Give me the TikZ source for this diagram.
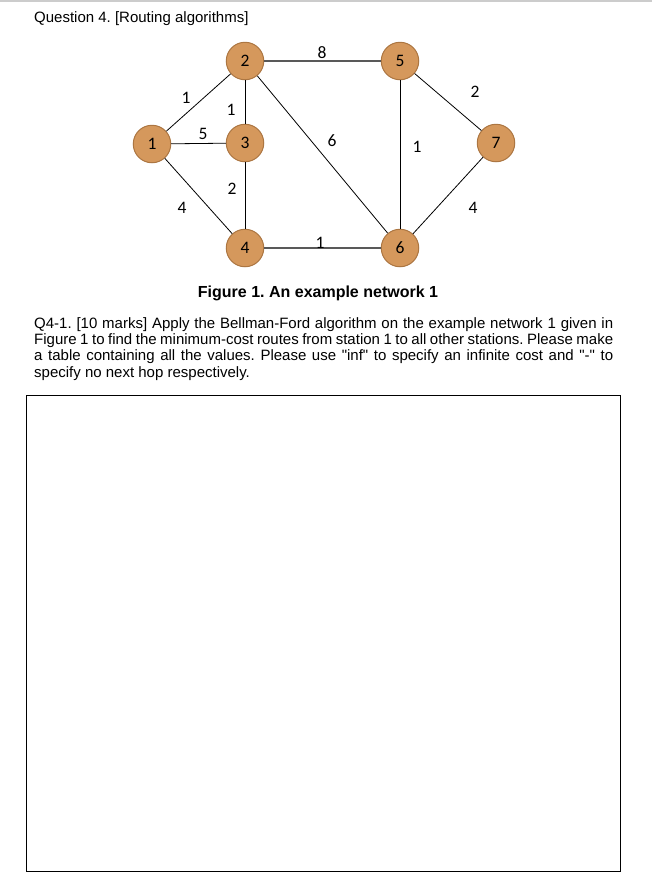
\documentclass[tikz,border=0pt]{standalone}
\usepackage{fontspec}
\setmainfont{Liberation Sans}
\setsansfont{Liberation Sans}
\newfontfamily\calibrifont{Carlito}
\definecolor{nodetan}{RGB}{213,152,92}
\definecolor{nodeedge}{RGB}{172,118,66}
\frenchspacing

\begin{document}
\begin{tikzpicture}[x=1pt,y=-1pt,font=\sffamily\fontsize{15}{16.4}\selectfont,station/.style={draw=nodeedge,line width=1pt,circle,fill=nodetan,minimum size=37.5pt,inner sep=0pt,font=\calibrifont\fontsize{17.5}{17.5}\selectfont},link/.style={black,line width=.8pt},trunk/.style={black!65,line width=1.3pt},cost/.style={font=\calibrifont\fontsize{17.5}{17.5}\selectfont,inner sep=0pt}]
\useasboundingbox (0,0) rectangle (652,884);
\draw[black!20,line width=1.5pt] (0,1)--(652,1);
\node[anchor=base west,inner sep=0pt] (title) at (34,22) {Question 4. [Routing algorithms]};
% network
\node[station] (n1) at (152,144) {1};
\node[station] (n2) at (245,61) {2};
\node[station] (n3) at (245,143) {3};
\node[station] (n4) at (245,248) {4};
\node[station] (n5) at (400,61) {5};
\node[station] (n6) at (400,248) {6};
\node[station] (n7) at (496,143) {7};
\draw[link] (n1)--(n2);
\draw[link] (n1)--(n3);
\draw[link] (n1)--(n4);
\draw[link] (n2)--(n3);
\draw[link] (n3)--(n4);
\draw[link] (n2)--(n6);
\draw[link] (n5)--(n6);
\draw[link] (n5)--(n7);
\draw[link] (n6)--(n7);
\draw[trunk] (n2)--(n5);
\draw[trunk] (n4)--(n6);
\node[cost] (c12) at (186,98) {1};
\node[cost] (c23) at (231,110) {1};
\node[cost] (c13) at (203,134) {5};
\node[cost] (c34) at (232,189) {2};
\node[cost] (c14) at (182,208) {4};
\node[cost] (c25) at (322,53) {8};
\node[cost] (c26) at (332,141) {6};
\node[cost] (c46) at (320,243) {1};
\node[cost] (c56) at (417,147) {1};
\node[cost] (c57) at (475,92) {2};
\node[cost] (c67) at (473,208) {4};
% text
\node[anchor=base,inner sep=0pt,font=\sffamily\bfseries\fontsize{16}{16}\selectfont] (caption) at (318,297) {Figure 1. An example network 1};
\node[anchor=base west,inner sep=0pt] (q1) at (34,328) {\makebox[579pt][s]{Q4-1. [10 marks] Apply the Bellman-Ford algorithm on the example network 1 given in}};
\node[anchor=base west,inner sep=0pt] (q2) at (34,344.4) {\makebox[579pt][s]{Figure 1 to find the minimum-cost routes from station 1 to all other stations. Please make}};
\node[anchor=base west,inner sep=0pt] (q3) at (34,360.8) {\makebox[579pt][s]{a table containing all the values. Please use \textquotedbl inf\textquotedbl\ to specify an infinite cost and \textquotedbl -\textquotedbl\ to}};
\node[anchor=base west,inner sep=0pt] (q4) at (34,377.2) {specify no next hop respectively.};
\draw[line width=1pt] (26,395) rectangle (620,871);
\end{tikzpicture}
\end{document}
